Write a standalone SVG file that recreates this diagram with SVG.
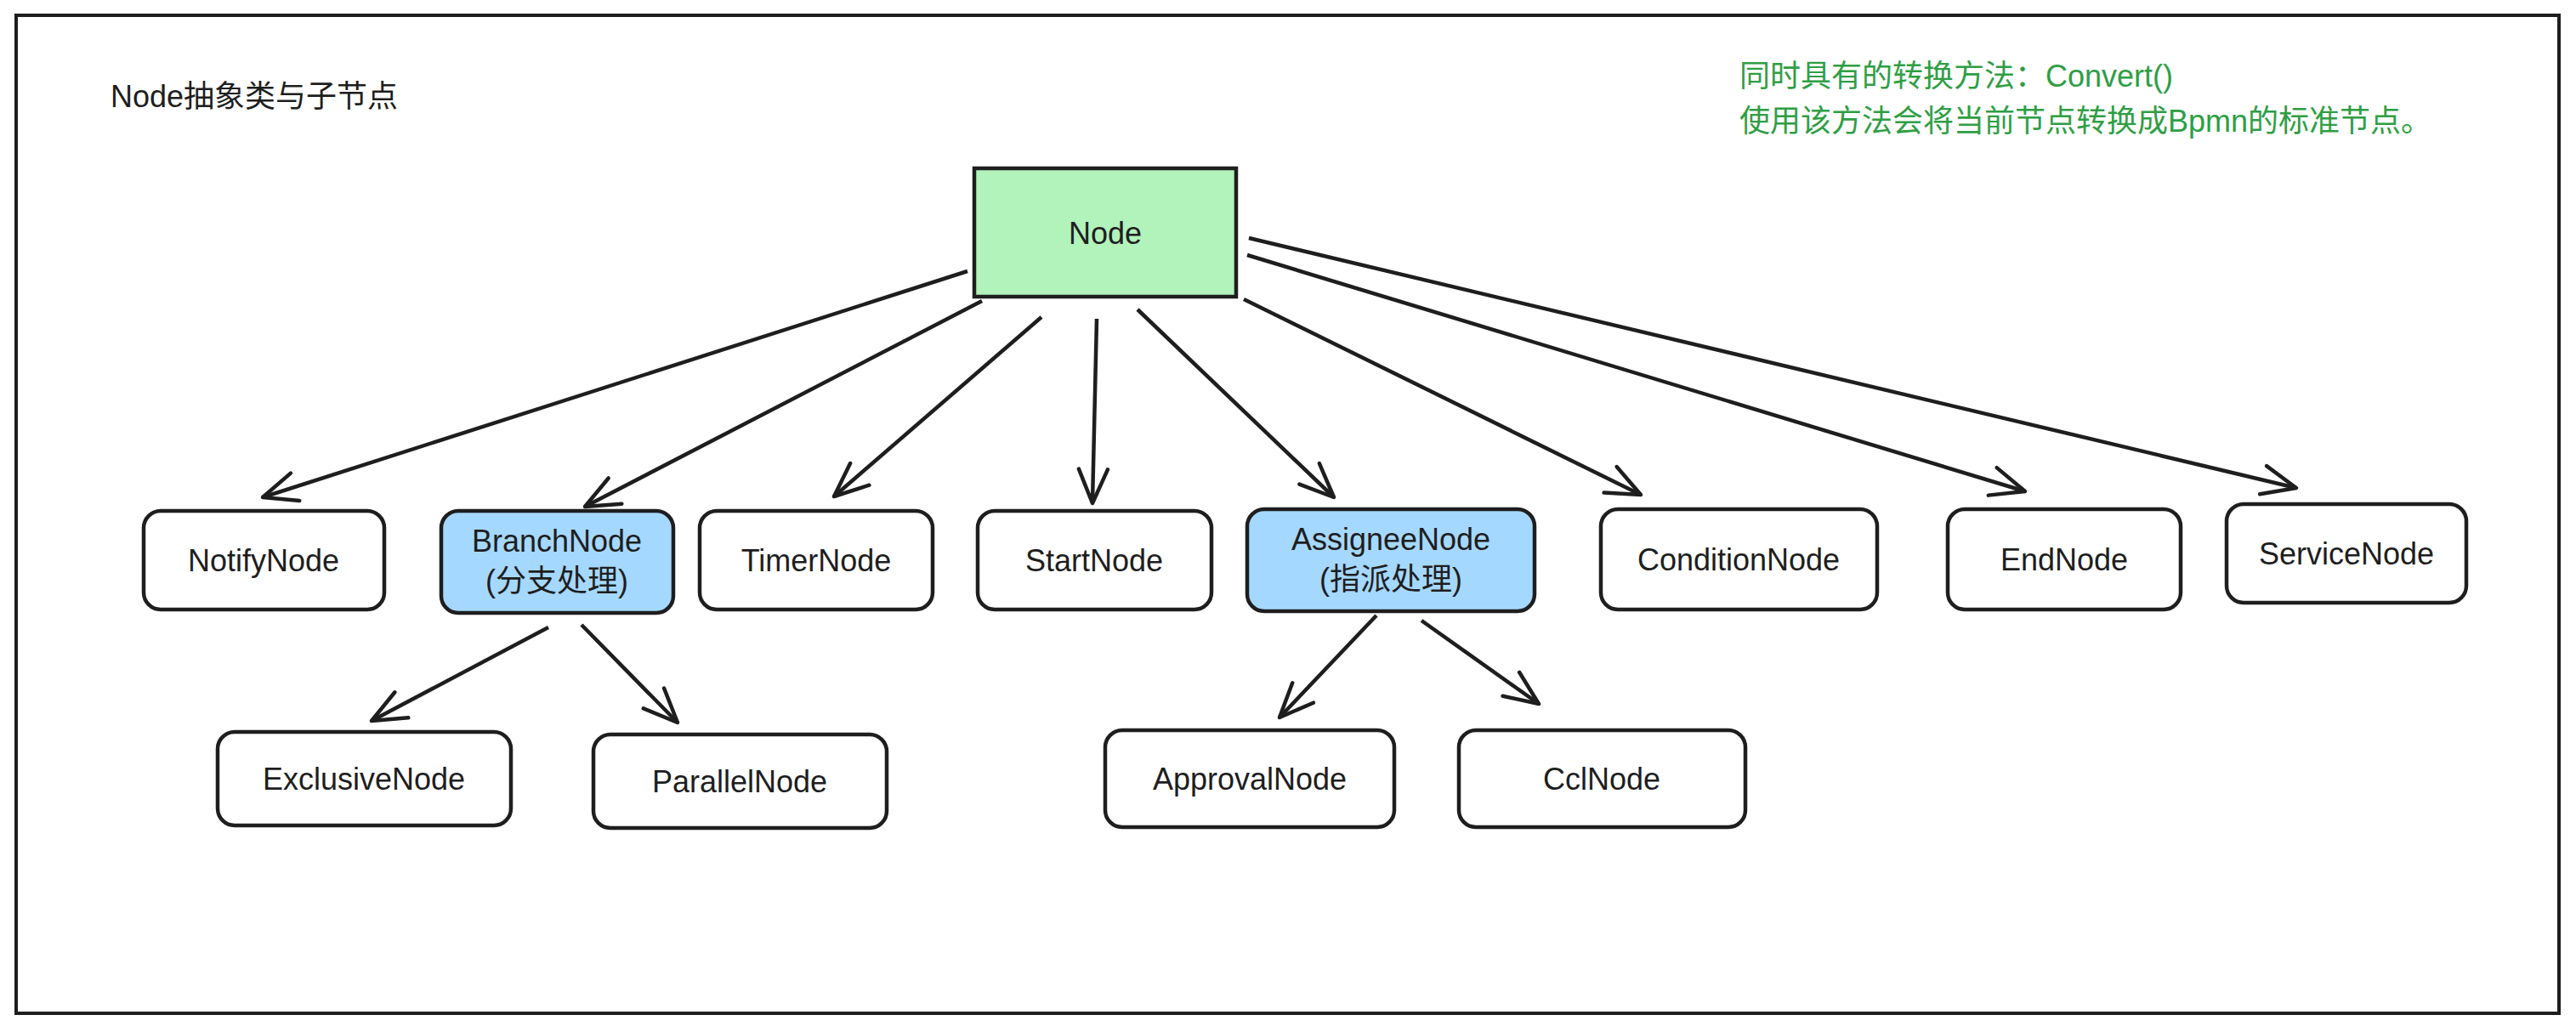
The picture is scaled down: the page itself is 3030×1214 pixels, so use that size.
<svg xmlns="http://www.w3.org/2000/svg" width="3030" height="1214" viewBox="0 0 3030 1214">
<defs>
<style>
text{font-family:"Liberation Sans","Noto Sans CJK SC",sans-serif;font-size:36px;fill:#1e1e1e;text-anchor:middle;dominant-baseline:central}
.b{fill:#fff;stroke:#1e1e1e;stroke-width:4.5}
.blue{fill:#a5d8ff}
.green{fill:#b2f2bb}
.c line{stroke:#1e1e1e;stroke-width:4.5;marker-end:url(#ah)}
.note{fill:#2f9e44;text-anchor:start}
</style>
<marker id="ah" viewBox="-45 -25 50 50" refX="0" refY="0" markerWidth="50" markerHeight="50" markerUnits="userSpaceOnUse" orient="auto" overflow="visible">
<path d="M-40,-17 L0,0 L-40,17" fill="none" stroke="#1e1e1e" stroke-width="4.5" stroke-linecap="round" stroke-linejoin="round"/>
</marker>
</defs>
<rect x="0" y="0" width="3030" height="1214" fill="#fff"/>
<rect x="19" y="18" width="2991" height="1174" fill="none" stroke="#1e1e1e" stroke-width="4"/>
<text x="130" y="113" style="text-anchor:start">Node抽象类与子节点</text>
<text class="note" x="2046" y="89">同时具有的转换方法：Convert()</text>
<text class="note" x="2046" y="142">使用该方法会将当前节点转换成Bpmn的标准节点。</text>
<g class="c">
<line x1="1138" y1="319" x2="309" y2="585"/>
<line x1="1155" y1="354" x2="688" y2="596"/>
<line x1="1225" y1="373" x2="981" y2="584"/>
<line x1="1290" y1="375" x2="1285" y2="592"/>
<line x1="1338" y1="364" x2="1569" y2="585"/>
<line x1="1463" y1="352" x2="1930" y2="582"/>
<line x1="1467" y1="300" x2="2382" y2="578"/>
<line x1="1469" y1="280" x2="2701" y2="574"/>
<line x1="645" y1="738" x2="437" y2="848"/>
<line x1="684" y1="735" x2="797" y2="850"/>
<line x1="1619" y1="724" x2="1505" y2="844"/>
<line x1="1672" y1="730" x2="1810" y2="828"/>
</g>
<g id="node"><rect class="b green" x="1146" y="198" width="308" height="151"/><text x="1300" y="274">Node</text></g>
<g id="notify"><rect class="b" x="169" y="601" width="283" height="116" rx="20"/><text x="310" y="659">NotifyNode</text></g>
<g id="branch"><rect class="b blue" x="519" y="601" width="273" height="120" rx="20"/><text x="655" y="636">BranchNode</text><text x="655" y="683">(分支处理)</text></g>
<g id="timer"><rect class="b" x="823" y="601" width="274" height="116" rx="20"/><text x="960" y="659">TimerNode</text></g>
<g id="start"><rect class="b" x="1150" y="601" width="275" height="116" rx="20"/><text x="1287" y="659">StartNode</text></g>
<g id="assignee"><rect class="b blue" x="1467" y="599" width="338" height="120" rx="20"/><text x="1636" y="634">AssigneeNode</text><text x="1636" y="681">(指派处理)</text></g>
<g id="condition"><rect class="b" x="1883" y="599" width="325" height="118" rx="20"/><text x="2045" y="658">ConditionNode</text></g>
<g id="end"><rect class="b" x="2291" y="599" width="274" height="118" rx="20"/><text x="2428" y="658">EndNode</text></g>
<g id="service"><rect class="b" x="2619" y="593" width="282" height="116" rx="20"/><text x="2760" y="651">ServiceNode</text></g>
<g id="exclusive"><rect class="b" x="256" y="861" width="345" height="110" rx="20"/><text x="428" y="916">ExclusiveNode</text></g>
<g id="parallel"><rect class="b" x="698" y="864" width="345" height="110" rx="20"/><text x="870" y="919">ParallelNode</text></g>
<g id="approval"><rect class="b" x="1300" y="859" width="340" height="114" rx="20"/><text x="1470" y="916">ApprovalNode</text></g>
<g id="ccl"><rect class="b" x="1716" y="859" width="337" height="114" rx="20"/><text x="1884" y="916">CclNode</text></g>
</svg>
